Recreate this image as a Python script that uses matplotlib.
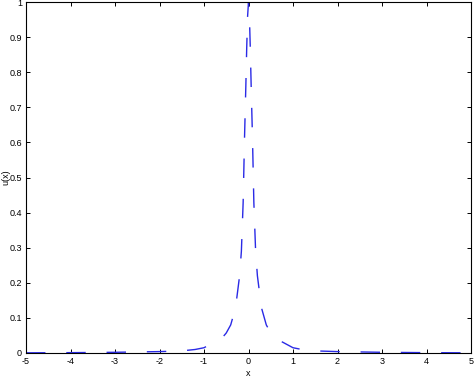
import matplotlib
matplotlib.use("Agg")
import matplotlib.pyplot as plt

# values (left half, mirrored on the right)
x_left = [-5.0, -4.0, -3.0, -2.5, -2.0, -1.5, -1.2, -1.0, -0.78, -0.6, -0.5,
          -0.4, -0.3, -0.27, -0.2, -0.16, -0.12, -0.09, -0.06, -0.04, -0.02]
y_left = [0.0005, 0.001, 0.002, 0.003, 0.004, 0.006, 0.01, 0.015, 0.03, 0.042, 0.057,
          0.08, 0.125, 0.15, 0.22, 0.29, 0.43, 0.61, 0.76, 0.87, 0.96]
x_peak = [0.0]
y_peak = [1.0]

x_vals = x_left + x_peak + [-v for v in reversed(x_left)]
y_vals = y_left + y_peak + list(reversed(y_left))

x_ticks = [-5, -4, -3, -2, -1, 0, 1, 2, 3, 4, 5]
y_ticks = [0, 0.1, 0.2, 0.3, 0.4, 0.5, 0.6, 0.7, 0.8, 0.9, 1]

plt.rcParams['font.family'] = ['Liberation Sans', 'DejaVu Sans']
fig = plt.figure(figsize=(4.74, 3.8), dpi=100)
ax = fig.add_axes([26/474, 1 - 353/380, (471 - 26)/474, (353 - 2)/380])
ax.plot(x_vals, y_vals, color='#2a2ae6', lw=1.0, dashes=(14, 15))
ax.set_xlim(-5, 5)
ax.set_ylim(0, 1)
ax.set_xticks(x_ticks)
ax.set_yticks(y_ticks)
ax.set_xticklabels([str(t) for t in x_ticks])
ax.set_yticklabels(['0', '0.1', '0.2', '0.3', '0.4', '0.5', '0.6', '0.7', '0.8', '0.9', '1'])
ax.tick_params(direction='in', length=3, width=0.7, labelsize=6.5, top=True, right=True, pad=3)
for s in ax.spines.values():
    s.set_linewidth(0.8)
ax.set_xlabel('x', fontsize=6.5, labelpad=2)
ax.set_ylabel('u(x)', fontsize=6.5)
ax.yaxis.set_label_coords(-0.035, 0.5)
fig.savefig('out.png', dpi=100)
